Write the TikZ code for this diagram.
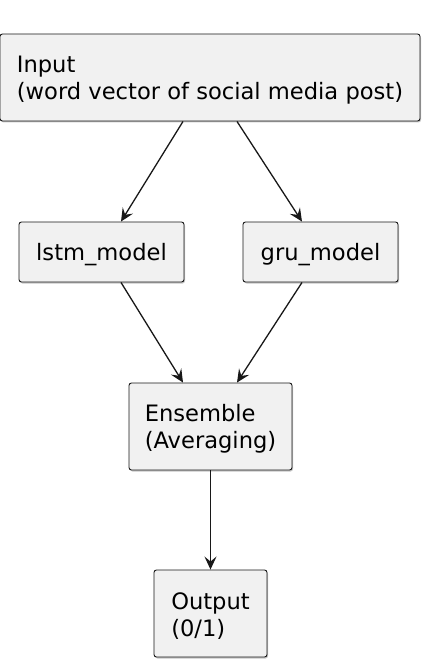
\documentclass[tikz,border=0pt]{standalone}
\usepackage{fontspec}
\setmainfont{DejaVu Sans}
\usetikzlibrary{arrows.meta,shadows}
\definecolor{boxfill}{HTML}{F1F1F1}
\definecolor{boxline}{HTML}{181818}
\newcommand\mytopstrut{\rule{0pt}{21.5pt}}
\begin{document}
\begin{tikzpicture}[x=1pt,y=-1pt,
  box/.style={draw=boxline, line width=0.9pt, fill=boxfill, rounded corners=2.5pt,
    align=left, inner xsep=0pt, inner ysep=0pt, anchor=center,
    font=\fontsize{22.6}{27}\selectfont,
    drop shadow={shadow xshift=1pt, shadow yshift=-1.5pt, fill=black!45, opacity=0.5}},
  conn/.style={draw=boxline, line width=1.3pt, -{Stealth[length=13pt,width=12pt,inset=5pt]}}]
\useasboundingbox (0,0) rectangle (422,660);
\node[box, minimum width=420, minimum height=87] (in) at (210,77.5)
  {\mytopstrut Input\\(word vector of social media post)};
\node[box, minimum width=165, minimum height=60] (lstm) at (101.5,252) {\mytopstrut lstm\_model};
\node[box, minimum width=155, minimum height=60] (gru) at (320.5,252) {\mytopstrut gru\_model};
\node[box, minimum width=163, minimum height=87] (ens) at (210.5,426.5) {\mytopstrut Ensemble\\(Averaging)};
\node[box, minimum width=113, minimum height=87] (out) at (210.5,613.5) {\mytopstrut Output\\(0/1)};
\draw[conn] ([xshift=-27pt]in.south) -- ([xshift=19.5pt]lstm.north);
\draw[conn] ([xshift=27pt]in.south) -- ([xshift=-18.5pt]gru.north);
\draw[conn] ([xshift=19.5pt]lstm.south) -- ([xshift=-27.5pt]ens.north);
\draw[conn] ([xshift=-18.5pt]gru.south) -- ([xshift=26.5pt]ens.north);
\draw[conn] (ens.south) -- (out.north);
\end{tikzpicture}
\end{document}
